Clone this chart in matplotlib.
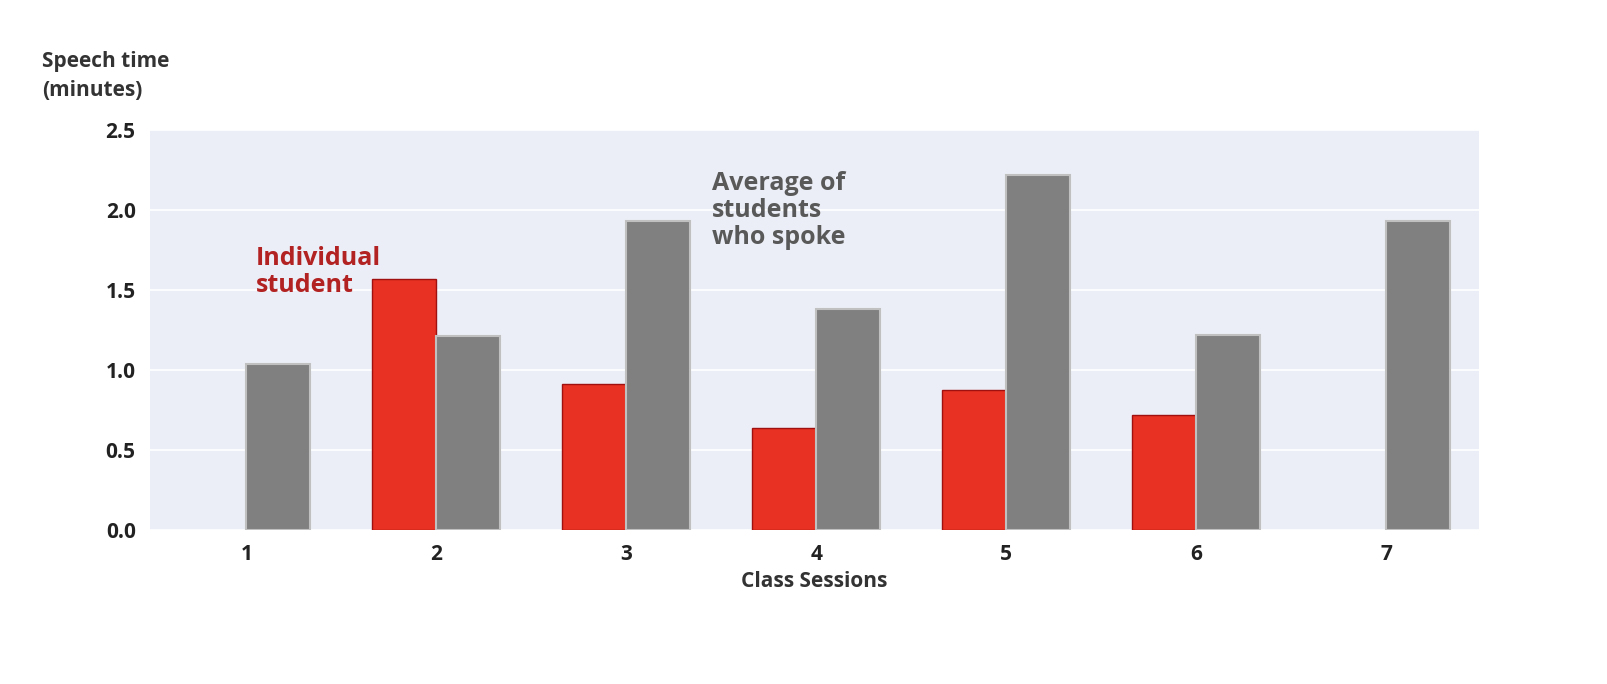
import matplotlib.pyplot as plt
import numpy as np

plt.rcParams['font.family'] = ['Open Sans', 'DejaVu Sans']

sessions = ["1", "2", "3", "4", "5", "6", "7"]
individual = [np.nan, 1.57, 0.91, 0.64, 0.875, 0.72, np.nan]
average = [1.04, 1.21, 1.93, 1.38, 2.22, 1.22, 1.93]

x = np.arange(1, len(sessions) + 1)
w = 0.337

fig = plt.figure(figsize=(16.08, 6.84), dpi=100)
ax = fig.add_axes([0.093, 0.225, 0.827, 0.585])
ax.set_facecolor("#EBEEF6")
ax.grid(axis="y", color="white", linewidth=1.2)
ax.set_axisbelow(True)

ax.bar(x - w / 2, individual, w, color="#E83122", edgecolor="#A01010", linewidth=1)
ax.bar(x + w / 2, average, w, color="#808080", edgecolor="#C0C0C0", linewidth=1.5)

ax.set_xlim(0.49, 7.49)
ax.set_ylim(0, 2.5)
ax.set_yticks(np.arange(0, 2.51, 0.5))
ax.set_yticklabels([f"{v:.1f}" for v in np.arange(0, 2.51, 0.5)])
ax.set_xticks(x)
ax.set_xticklabels(sessions)
for s in ax.spines.values():
    s.set_visible(False)
ax.tick_params(length=0, labelsize=15, labelcolor="#222222", pad=10)
for lab in ax.get_xticklabels() + ax.get_yticklabels():
    lab.set_fontweight("bold")

ax.set_xlabel("Class Sessions", fontsize=15, fontweight="bold", color="#333333", labelpad=4)
fig.text(0.026, 0.925, "Speech time\n(minutes)", fontsize=15, fontweight="bold",
         color="#333333", va="top", linespacing=1.5)

ax.text(1.05, 1.45, "Individual\nstudent", fontsize=18, fontweight="bold",
        color="#B22222", va="bottom", linespacing=1.1)
ax.text(3.45, 1.75, "Average of\nstudents\nwho spoke", fontsize=18, fontweight="bold",
        color="#595959", va="bottom", linespacing=1.1)

fig.savefig("out.png")
